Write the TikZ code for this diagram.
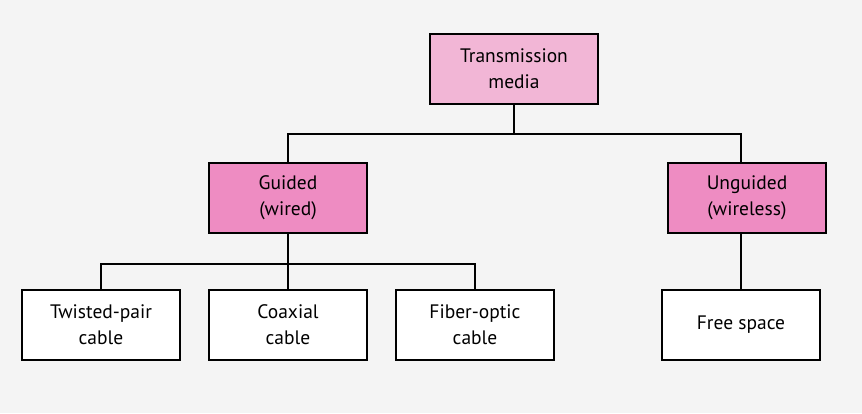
\documentclass[tikz,border=0pt]{standalone}
\usepackage{fontspec}
\setmainfont{PT Sans}
\usetikzlibrary{positioning}
\definecolor{bgray}{HTML}{F4F4F4}
\definecolor{lpink}{HTML}{F2B6D6}
\definecolor{dpink}{HTML}{EE8CC2}
\tikzset{
  box/.style={rectangle, minimum width=158pt, minimum height=70pt, align=center, draw=black, line width=2pt, font=\fontsize{19.5}{26}\selectfont},
  root/.style={box, fill=lpink, minimum width=168pt},
  kind/.style={box, fill=dpink},
  leaf/.style={box, fill=white},
  link/.style={line width=2pt}
}
\begin{document}
\begin{tikzpicture}[x=1pt,y=-1pt]
\fill[bgray] (0,0) rectangle (862,413);
\node (media) [root] at (514,69) {Transmission\\media};
\node (guided) [kind] at (288,198) {Guided\\(wired)};
\node (unguided) [kind] at (747,198) {Unguided\\(wireless)};
\node (twisted) [leaf] at (101,325) {Twisted-pair\\cable};
\node (coax) [leaf] at (288,325) {Coaxial\\cable};
\node (fiber) [leaf] at (475,325) {Fiber-optic\\cable};
\node (free) [leaf] at (741,325) {Free space};
% tree connectors
\draw [link] (media.south) -- ++(0,29) -| (guided.north);
\draw [link] (media.south) -- ++(0,29) -| ([xshift=-6pt]unguided.north);
\draw [link] (guided.south) -- ++(0,30) -| (twisted.north);
\draw [link] (guided.south) -- (coax.north);
\draw [link] (guided.south) -- ++(0,30) -| (fiber.north);
\draw [link] ([xshift=-6pt]unguided.south) -- (free.north);
\end{tikzpicture}
\end{document}
